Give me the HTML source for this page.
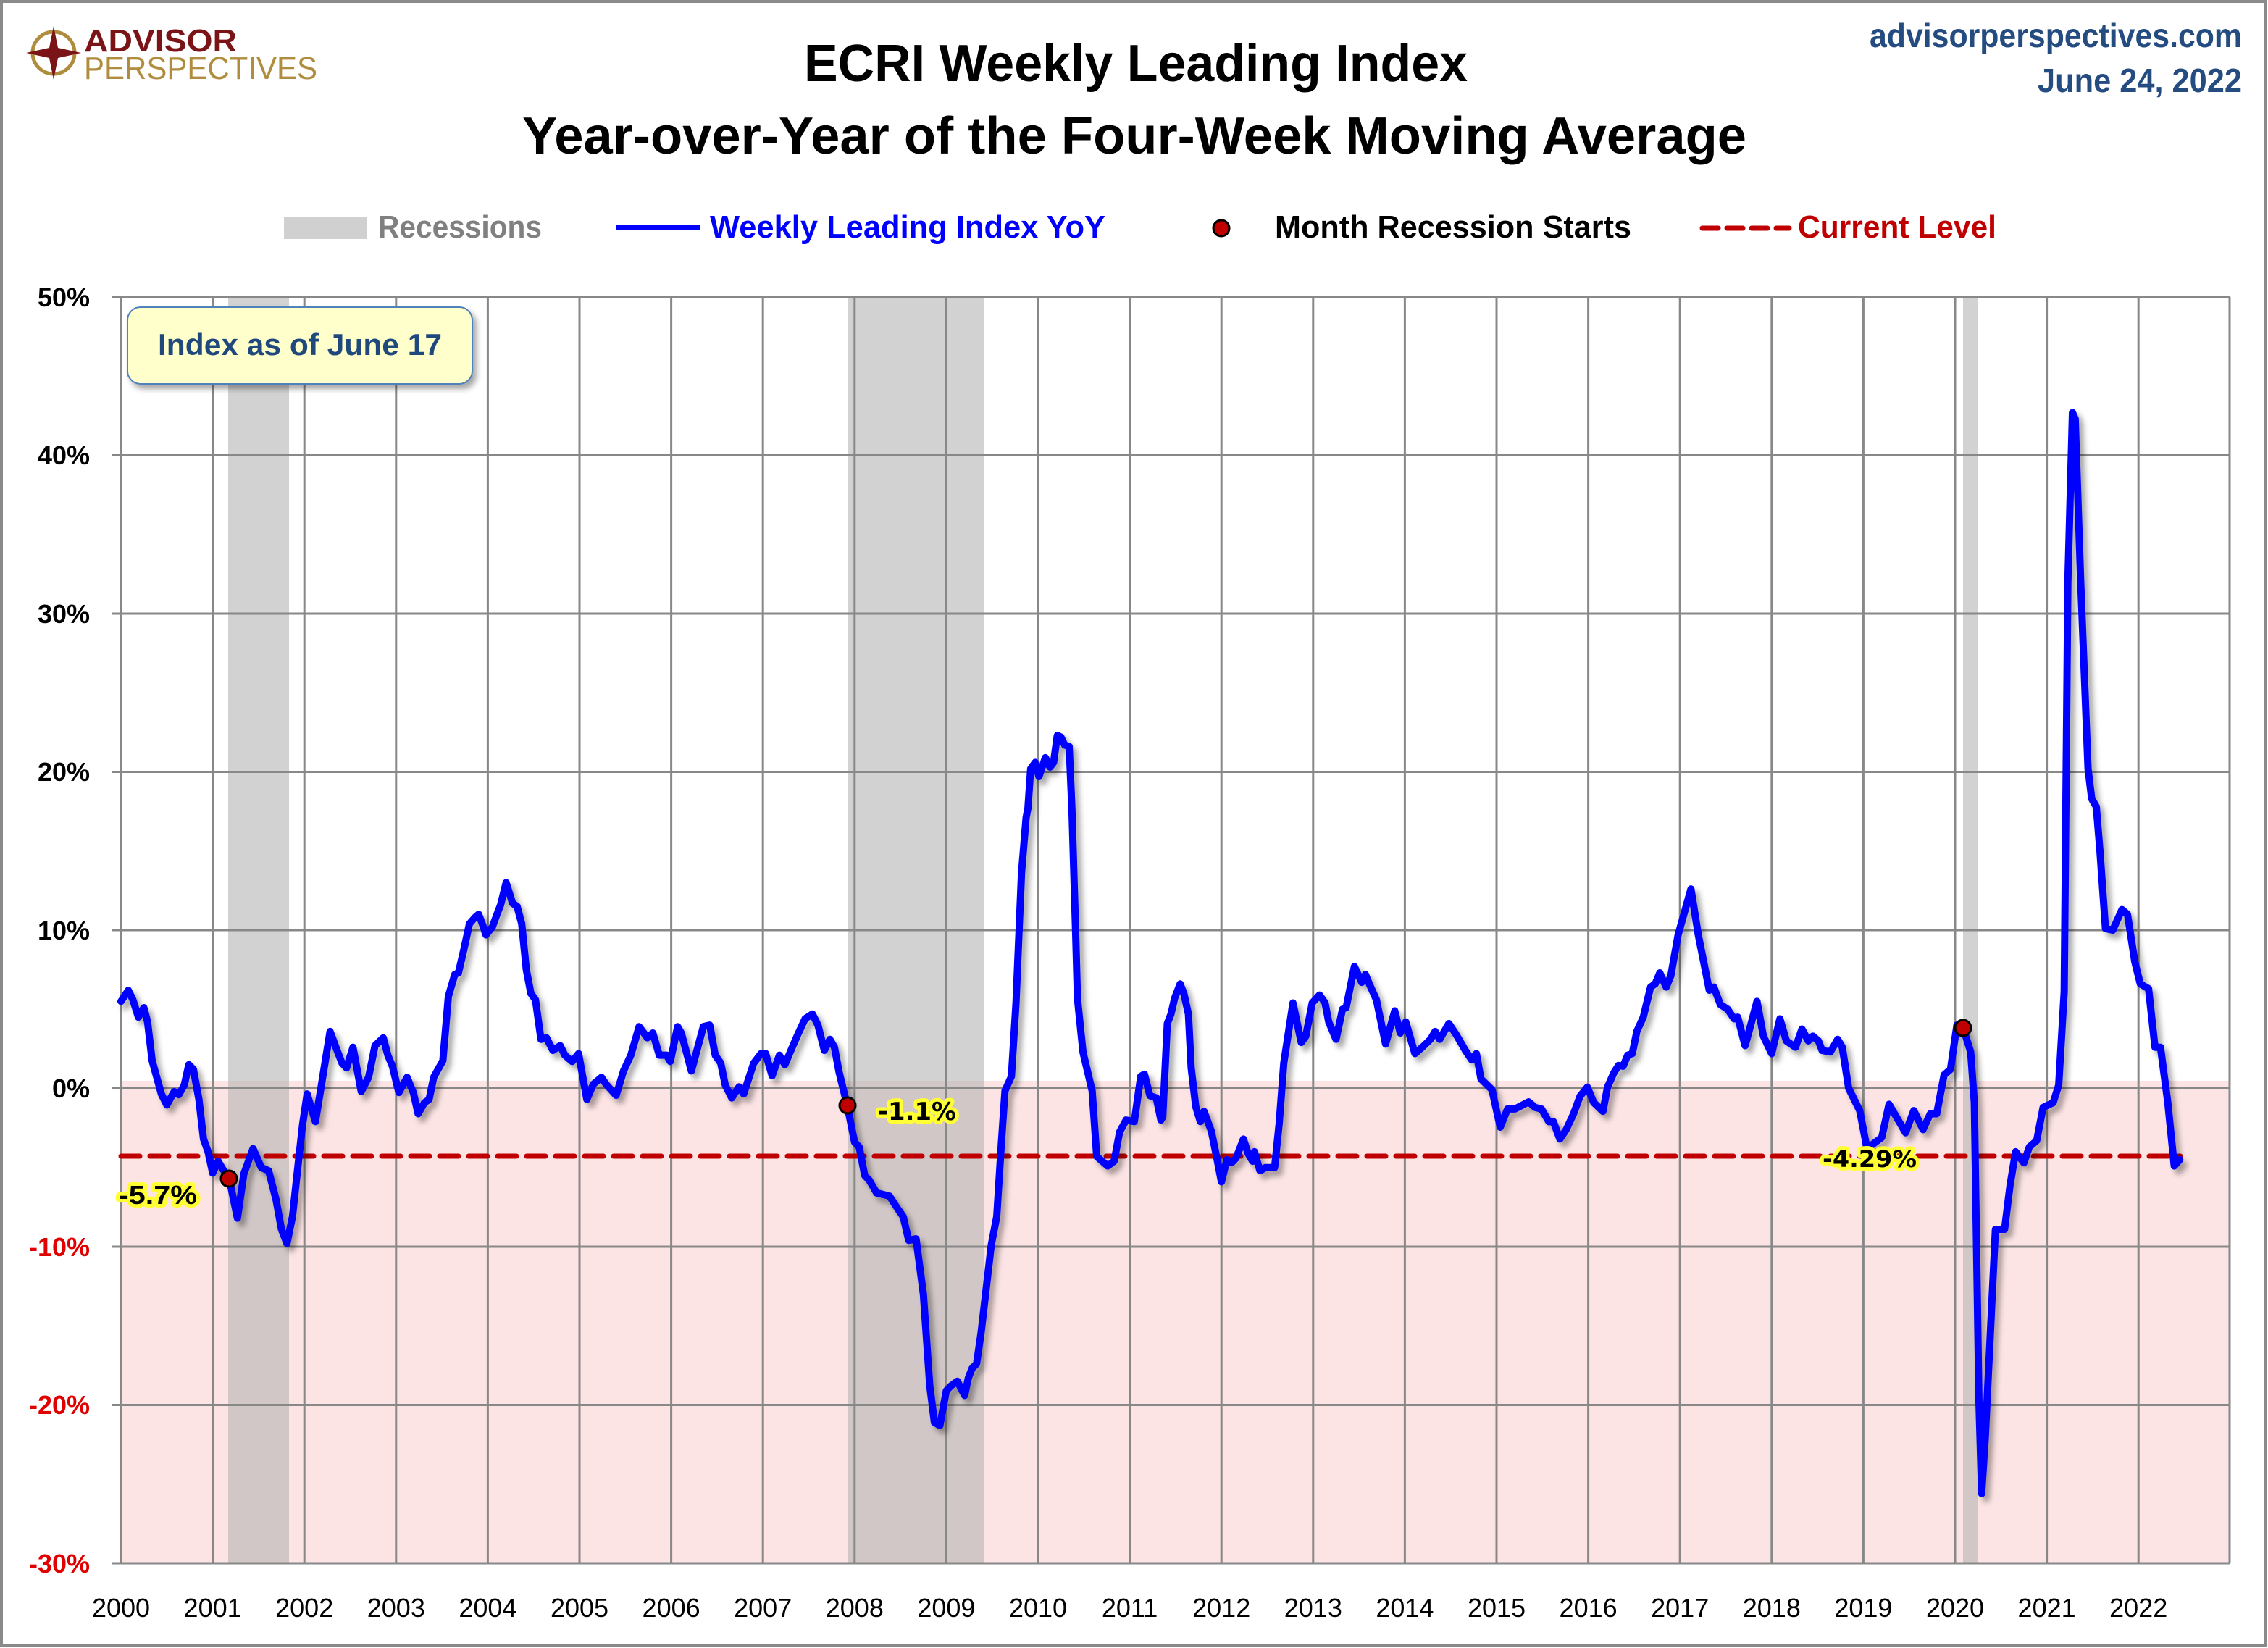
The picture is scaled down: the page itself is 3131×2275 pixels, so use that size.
<!DOCTYPE html>
<html><head><meta charset="utf-8"><style>html,body{margin:0;padding:0;background:#fff}svg{display:block}</style></head>
<body>
<svg xmlns="http://www.w3.org/2000/svg" width="3131" height="2275" viewBox="0 0 3131 2275">
<defs>
<filter id="sh" x="-5%" y="-5%" width="110%" height="110%"><feDropShadow dx="6" dy="7" stdDeviation="4" flood-color="#000" flood-opacity="0.35"/></filter>
<filter id="bsh" x="-10%" y="-20%" width="120%" height="150%"><feDropShadow dx="5" dy="6" stdDeviation="4" flood-color="#000" flood-opacity="0.35"/></filter>
</defs>
<rect x="0" y="0" width="3131" height="2275" fill="#fff"/>
<rect x="2" y="2" width="3126" height="2270" fill="none" stroke="#8a8a8a" stroke-width="4"/>

<rect x="167" y="1492" width="2911" height="666" fill="#fde4e4"/>
<rect x="315" y="410" width="84" height="1748" fill="#b4b4b4" opacity="0.6"/>
<rect x="1170" y="410" width="189" height="1748" fill="#b4b4b4" opacity="0.6"/>
<rect x="2710" y="410" width="20" height="1748" fill="#b4b4b4" opacity="0.6"/>

<g stroke="#888" stroke-width="3">
<line x1="167" y1="410" x2="3078" y2="410"/>
<line x1="167" y1="628.5" x2="3078" y2="628.5"/>
<line x1="167" y1="847" x2="3078" y2="847"/>
<line x1="167" y1="1065.5" x2="3078" y2="1065.5"/>
<line x1="167" y1="1284" x2="3078" y2="1284"/>
<line x1="167" y1="1502.5" x2="3078" y2="1502.5"/>
<line x1="167" y1="1721" x2="3078" y2="1721"/>
<line x1="167" y1="1939.5" x2="3078" y2="1939.5"/>
<line x1="155" y1="2158" x2="3078" y2="2158"/>
<line x1="155" y1="410" x2="167" y2="410"/>
<line x1="155" y1="628.5" x2="167" y2="628.5"/>
<line x1="155" y1="847" x2="167" y2="847"/>
<line x1="155" y1="1065.5" x2="167" y2="1065.5"/>
<line x1="155" y1="1284" x2="167" y2="1284"/>
<line x1="155" y1="1502.5" x2="167" y2="1502.5"/>
<line x1="155" y1="1721" x2="167" y2="1721"/>
<line x1="155" y1="1939.5" x2="167" y2="1939.5"/>
</g>
<g stroke="#888" stroke-width="3">
<line x1="167" y1="410" x2="167" y2="2158"/>
<line x1="293.6" y1="410" x2="293.6" y2="2158"/>
<line x1="420.2" y1="410" x2="420.2" y2="2158"/>
<line x1="546.8" y1="410" x2="546.8" y2="2158"/>
<line x1="673.4" y1="410" x2="673.4" y2="2158"/>
<line x1="800" y1="410" x2="800" y2="2158"/>
<line x1="926.6" y1="410" x2="926.6" y2="2158"/>
<line x1="1053.2" y1="410" x2="1053.2" y2="2158"/>
<line x1="1179.8" y1="410" x2="1179.8" y2="2158"/>
<line x1="1306.4" y1="410" x2="1306.4" y2="2158"/>
<line x1="1433" y1="410" x2="1433" y2="2158"/>
<line x1="1559.6" y1="410" x2="1559.6" y2="2158"/>
<line x1="1686.2" y1="410" x2="1686.2" y2="2158"/>
<line x1="1812.8" y1="410" x2="1812.8" y2="2158"/>
<line x1="1939.4" y1="410" x2="1939.4" y2="2158"/>
<line x1="2066" y1="410" x2="2066" y2="2158"/>
<line x1="2192.6" y1="410" x2="2192.6" y2="2158"/>
<line x1="2319.2" y1="410" x2="2319.2" y2="2158"/>
<line x1="2445.8" y1="410" x2="2445.8" y2="2158"/>
<line x1="2572.4" y1="410" x2="2572.4" y2="2158"/>
<line x1="2699" y1="410" x2="2699" y2="2158"/>
<line x1="2825.6" y1="410" x2="2825.6" y2="2158"/>
<line x1="2952.2" y1="410" x2="2952.2" y2="2158"/>
<line x1="3078" y1="410" x2="3078" y2="2158"/>
</g>

<g font-family="'Liberation Sans', sans-serif" font-weight="bold" font-size="36" text-anchor="end">
<text x="124" y="423">50%</text>
<text x="124" y="641">40%</text>
<text x="124" y="860">30%</text>
<text x="124" y="1078">20%</text>
<text x="124" y="1297">10%</text>
<text x="124" y="1515">0%</text>
<text x="124" y="1734" fill="#e00000">-10%</text>
<text x="124" y="1952" fill="#e00000">-20%</text>
<text x="124" y="2171" fill="#e00000">-30%</text>
</g>
<g font-family="'Liberation Sans', sans-serif" font-size="36" text-anchor="middle" fill="#000">
<text x="167" y="2232">2000</text><text x="293.6" y="2232">2001</text><text x="420.2" y="2232">2002</text>
<text x="546.8" y="2232">2003</text><text x="673.4" y="2232">2004</text><text x="800" y="2232">2005</text>
<text x="926.6" y="2232">2006</text><text x="1053.2" y="2232">2007</text><text x="1179.8" y="2232">2008</text>
<text x="1306.4" y="2232">2009</text><text x="1433" y="2232">2010</text><text x="1559.6" y="2232">2011</text>
<text x="1686.2" y="2232">2012</text><text x="1812.8" y="2232">2013</text><text x="1939.4" y="2232">2014</text>
<text x="2066" y="2232">2015</text><text x="2192.6" y="2232">2016</text><text x="2319.2" y="2232">2017</text>
<text x="2445.8" y="2232">2018</text><text x="2572.4" y="2232">2019</text><text x="2699" y="2232">2020</text>
<text x="2825.6" y="2232">2021</text><text x="2952.2" y="2232">2022</text>
</g>

<line x1="167" y1="1596" x2="3010" y2="1596" stroke="#c00000" stroke-width="7" stroke-dasharray="26 14" stroke-linecap="round"/>

<g filter="url(#sh)">
<g transform="translate(167,1502.5) scale(126.6,-21.85)">
<polyline vector-effect="non-scaling-stroke" fill="none" stroke="#0000ff" stroke-width="10" stroke-linejoin="round" stroke-linecap="round" points="
0,5.5 0.08,6.2 0.13,5.6 0.19,4.5 0.25,5.1 0.29,4.2 0.34,1.75 0.4,0.5 0.44,-0.35 0.5,-1.05 0.58,-0.2 0.63,-0.4 0.69,0.2 0.74,1.5 0.79,1.2 0.85,-0.7 0.9,-3.2 0.95,-4 1.0,-5.35 1.06,-4.6 1.11,-5.1 1.18,-5.7 1.27,-8.2 1.34,-5.4 1.44,-3.8 1.53,-5 1.61,-5.2 1.69,-7 1.75,-8.9 1.81,-9.8 1.87,-8.1 1.93,-4.9 1.98,-2.3 2.03,-0.35 2.12,-2.1 2.17,-0.35 2.28,3.6 2.35,2.5 2.41,1.6 2.46,1.3 2.53,2.6 2.62,-0.2 2.7,0.7 2.77,2.7 2.86,3.2 2.91,2.1 2.96,1.4 3.03,-0.26 3.12,0.7 3.19,-0.3 3.24,-1.6 3.31,-0.9 3.36,-0.7 3.41,0.7 3.51,1.75 3.57,5.8 3.64,7.2 3.68,7.3 3.74,8.8 3.8,10.4 3.86,10.8 3.9,11 3.94,10.4 3.98,9.7 4.05,10.2 4.1,11 4.14,11.6 4.2,13 4.27,11.7 4.32,11.5 4.37,10.4 4.42,7.5 4.47,6 4.52,5.6 4.58,3.1 4.64,3.2 4.71,2.4 4.79,2.7 4.84,2.1 4.92,1.7 4.99,2.2 5.08,-0.7 5.15,0.26 5.24,0.7 5.29,0.26 5.4,-0.44 5.48,1.1 5.56,2.1 5.65,3.9 5.74,3.2 5.8,3.5 5.87,2.1 5.95,2.1 5.99,1.7 6.07,3.9 6.11,3.5 6.22,1.1 6.35,3.9 6.42,4 6.48,2.1 6.54,1.6 6.59,0.2 6.66,-0.6 6.74,0.1 6.79,-0.35 6.9,1.6 6.98,2.2 7.03,2.2 7.1,0.8 7.18,2.1 7.24,1.5 7.32,2.6 7.38,3.4 7.46,4.4 7.54,4.7 7.6,4 7.67,2.4 7.73,3.1 7.78,2.6 7.83,1.05 7.92,-1.1 8.0,-3.4 8.05,-3.7 8.11,-5.5 8.16,-5.8 8.24,-6.6 8.38,-6.8 8.47,-7.6 8.53,-8.1 8.59,-9.6 8.67,-9.5 8.75,-13 8.82,-18.8 8.87,-21.1 8.93,-21.3 9.0,-19.1 9.05,-18.8 9.12,-18.5 9.2,-19.4 9.24,-18.3 9.28,-17.7 9.33,-17.4 9.38,-15.4 9.49,-9.9 9.55,-8.1 9.6,-3.5 9.64,-0.15 9.71,0.76 9.76,5.4 9.82,13.6 9.87,17.1 9.89,17.7 9.92,20.2 9.97,20.6 10.01,19.7 10.08,20.9 10.13,20.3 10.17,20.6 10.21,22.3 10.25,22.2 10.29,21.7 10.34,21.6 10.37,17.6 10.41,9.9 10.43,5.7 10.49,2.3 10.59,-0.15 10.64,-4.3 10.76,-4.9 10.83,-4.6 10.89,-2.75 10.96,-2 11.05,-2.1 11.12,0.76 11.16,0.9 11.22,-0.46 11.29,-0.6 11.34,-2 11.36,-1.8 11.41,4.1 11.45,4.7 11.49,5.7 11.55,6.6 11.59,6.0 11.64,4.7 11.67,1.3 11.72,-1.15 11.77,-2.1 11.81,-1.45 11.89,-2.7 11.95,-4.4 12.0,-5.9 12.06,-4.5 12.11,-4.7 12.16,-4.4 12.24,-3.2 12.29,-4.1 12.34,-4.6 12.36,-4.0 12.42,-5.2 12.48,-5.0 12.58,-5.0 12.63,-2.2 12.68,1.6 12.78,5.4 12.87,2.9 12.92,3.3 12.99,5.4 13.07,5.9 13.13,5.4 13.17,4.2 13.25,3.1 13.32,5.0 13.36,5.1 13.45,7.7 13.53,6.7 13.57,7.2 13.62,6.5 13.69,5.6 13.79,2.8 13.89,4.9 13.95,3.5 14.01,4.2 14.11,2.2 14.19,2.6 14.28,3.1 14.33,3.6 14.38,3.1 14.48,4.1 14.56,3.4 14.66,2.4 14.73,1.8 14.78,2.2 14.83,0.6 14.95,-0.08 15.04,-2.45 15.12,-1.3 15.2,-1.3 15.25,-1.15 15.35,-0.85 15.42,-1.2 15.49,-1.3 15.57,-2.1 15.62,-2.1 15.69,-3.2 15.76,-2.6 15.84,-1.6 15.91,-0.5 15.99,0.08 16.06,-0.9 16.16,-1.45 16.21,0.08 16.28,1.0 16.33,1.45 16.38,1.4 16.43,2.1 16.48,2.2 16.53,3.6 16.6,4.5 16.68,6.4 16.73,6.6 16.78,7.3 16.85,6.4 16.9,7.1 16.98,9.7 17.12,12.6 17.2,9.7 17.32,6.2 17.37,6.4 17.44,5.3 17.52,5.0 17.59,4.4 17.63,4.5 17.71,2.7 17.76,3.75 17.84,5.5 17.91,3.3 18.0,2.2 18.09,4.4 18.16,3.0 18.26,2.6 18.33,3.75 18.4,3.0 18.45,3.3 18.51,3.0 18.55,2.4 18.64,2.3 18.72,3.1 18.77,2.6 18.84,0 18.96,-1.4 19.04,-3.8 19.2,-3.1 19.28,-1.0 19.37,-1.9 19.46,-2.8 19.55,-1.4 19.65,-2.6 19.73,-1.6 19.8,-1.6 19.88,0.85 19.95,1.2 20.02,4.0 20.09,3.8 20.17,2.3 20.21,-0.9 20.26,-19.7 20.29,-25.6 20.33,-22 20.44,-8.9 20.54,-8.9 20.6,-6.1 20.66,-4 20.75,-4.7 20.81,-3.7 20.89,-3.3 20.96,-1.2 21.07,-0.9 21.13,0.2 21.19,6.1 21.23,32 21.28,42.7 21.31,42.3 21.37,32 21.45,20.2 21.49,18.3 21.54,17.8 21.58,15 21.64,10.1 21.72,10 21.82,11.3 21.88,11 21.96,8 22.02,6.6 22.11,6.3 22.18,2.6 22.24,2.6 22.32,-0.9 22.39,-4.9 22.45,-4.5"/>
</g>
</g>

<g fill="#c00000" stroke="#000" stroke-width="3">
<circle cx="316" cy="1627" r="11"/>
<circle cx="1170" cy="1526" r="11"/>
<circle cx="2710" cy="1419" r="11"/>
</g>

<g font-weight="bold" fill="#000" stroke="#ffff33" stroke-width="10" stroke-linejoin="round" paint-order="stroke">
<text x="164" y="1662" font-family="'Liberation Sans', sans-serif" font-size="36" textLength="108" lengthAdjust="spacingAndGlyphs">-5.7%</text>
<text x="1212" y="1546" font-family="'DejaVu Sans', sans-serif" font-size="34" textLength="108" lengthAdjust="spacingAndGlyphs">-1.1%</text>
<text x="2516" y="1611" font-family="'DejaVu Sans', sans-serif" font-size="32" textLength="130" lengthAdjust="spacingAndGlyphs">-4.29%</text>
</g>

<rect x="176" y="424" width="476" height="106" rx="18" fill="#ffffcc" stroke="#4f81bd" stroke-width="2" filter="url(#bsh)"/>
<text x="414" y="490" text-anchor="middle" font-family="'Liberation Sans', sans-serif" font-weight="bold" font-size="42" fill="#1f497d" textLength="392" lengthAdjust="spacingAndGlyphs">Index as of June 17</text>

<g font-family="'Liberation Sans', sans-serif" font-weight="bold" fill="#000" text-anchor="middle">
<text x="1568" y="112" font-size="72" textLength="916" lengthAdjust="spacingAndGlyphs">ECRI Weekly Leading Index</text>
<text x="1566" y="212" font-size="72" textLength="1690" lengthAdjust="spacingAndGlyphs">Year-over-Year of the Four-Week Moving Average</text>
</g>
<g font-family="'Liberation Sans', sans-serif" font-weight="bold" fill="#254c80" text-anchor="end">
<text x="3095" y="65" font-size="46" textLength="514" lengthAdjust="spacingAndGlyphs">advisorperspectives.com</text>
<text x="3095" y="127" font-size="46" textLength="282" lengthAdjust="spacingAndGlyphs">June 24, 2022</text>
</g>

<rect x="392" y="300" width="114" height="30" fill="#d0d0d0"/>
<g font-family="'Liberation Sans', sans-serif" font-weight="bold" font-size="44">
<text x="522" y="328" fill="#808080" textLength="226" lengthAdjust="spacingAndGlyphs">Recessions</text>
<line x1="850" y1="314" x2="966" y2="314" stroke="#0000ff" stroke-width="7"/>
<text x="980" y="328" fill="#0000ff" textLength="546" lengthAdjust="spacingAndGlyphs">Weekly Leading Index YoY</text>
<circle cx="1686" cy="315" r="11" fill="#c00000" stroke="#000" stroke-width="3"/>
<text x="1760" y="328" fill="#000" textLength="492" lengthAdjust="spacingAndGlyphs">Month Recession Starts</text>
<line x1="2350" y1="315" x2="2470" y2="315" stroke="#c00000" stroke-width="7" stroke-dasharray="22 12" stroke-linecap="round"/>
<text x="2482" y="328" fill="#c00000" textLength="274" lengthAdjust="spacingAndGlyphs">Current Level</text>
</g>

<g>
<circle cx="74" cy="73" r="29" fill="none" stroke="#b08d3e" stroke-width="5"/>
<polygon points="74,36 80,66 112,73 80,80 74,110 68,80 36,73 68,66" fill="#7b1416"/>
<text x="116" y="71" font-family="'Liberation Sans', sans-serif" font-weight="bold" font-size="44" fill="#7b1416" textLength="211" lengthAdjust="spacingAndGlyphs">ADVISOR</text>
<text x="116" y="109" font-family="'Liberation Sans', sans-serif" font-size="44" fill="#b08d3e" textLength="322" lengthAdjust="spacingAndGlyphs">PERSPECTIVES</text>
</g>
</svg>
</body></html>
